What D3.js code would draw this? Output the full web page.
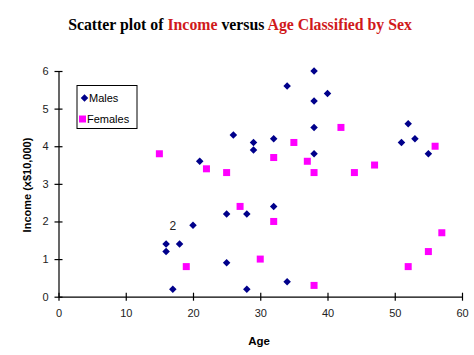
<!DOCTYPE html>
<html><head><meta charset="utf-8">
<script src="https://cdn.jsdelivr.net/npm/d3@7"></script>
<style>body{margin:0;background:#fff}svg{display:block}</style>
</head><body>
<svg id="c" width="474" height="355"></svg>
<script>
const malesAge    = [17,16,16,18,20,21,25,25,26,28,28,29,29,32,32,34,34,38,38,38,38,40,51,52,53,55];
const malesIncome = [0.2,1.2,1.4,1.4,1.9,3.6,2.2,0.9,4.3,2.2,0.2,4.1,3.9,4.2,2.4,5.6,0.4,6.0,5.2,4.5,3.8,5.4,4.1,4.6,4.2,3.8];
const femalesAge    = [15,19,22,25,27,30,32,32,35,37,38,38,42,44,47,52,55,56,57];
const femalesIncome = [3.8,0.8,3.4,3.3,2.4,1.0,3.7,2.0,4.1,3.6,3.3,0.3,4.5,3.3,3.5,0.8,1.2,4.0,1.7];
const xTicks = [0,10,20,30,40,50,60];
const yTicks = [0,1,2,3,4,5,6];
const annotation = {age:17, income:1.87, text:"2"};

const svg = d3.select("#c");
const x = d3.scaleLinear().domain([0,60]).range([58.5,462]);
const y = d3.scaleLinear().domain([0,6]).range([296.7,71]);
const font = "Liberation Sans, Arial, sans-serif";

// title
const t = svg.append("text").attr("x",240).attr("y",30).attr("text-anchor","middle")
  .attr("font-family","Liberation Serif, Times New Roman, serif").attr("font-weight","bold").attr("font-size",15.8);
[["Scatter plot of ","#000"],["Income","#d0191b"],[" versus ","#000"],["Age Classified by Sex","#d0191b"]]
  .forEach(([s,c])=>t.append("tspan").attr("fill",c).text(s));

// axes
const xAxis = svg.append("g").attr("transform",`translate(0,${y(0)})`)
  .call(d3.axisBottom(x).tickValues(xTicks).tickFormat(d3.format("d")).tickSize(4).tickPadding(9).tickSizeOuter(0));
xAxis.selectAll(".tick line").attr("y1",-4);
const yAxis = svg.append("g").attr("transform",`translate(${x(0)},0)`)
  .call(d3.axisLeft(y).tickValues(yTicks).tickFormat(d3.format("d")).tickSize(4).tickPadding(6).tickSizeOuter(0));
yAxis.selectAll(".tick line").attr("x1",4);
svg.selectAll(".domain").attr("stroke","#000").attr("stroke-width",1.2);
svg.selectAll(".tick line").attr("stroke","#000").attr("stroke-width",1.2);
svg.selectAll(".tick text").attr("font-family",font).attr("font-size",11).attr("fill","#222");

// axis titles
svg.append("text").attr("x",259).attr("y",345).attr("text-anchor","middle")
  .attr("font-family",font).attr("font-weight","bold").attr("font-size",11.5).text("Age");
svg.append("text").attr("transform","translate(31,185) rotate(-90)").attr("text-anchor","middle")
  .attr("font-family",font).attr("font-weight","bold").attr("font-size",11).text("Income (x$10,000)");

// points
const diamond = d3.symbol().type(d3.symbolDiamond2).size(36);
svg.append("g").selectAll("path").data(malesAge.map((a,i)=>[a,malesIncome[i]])).join("path")
  .attr("d",diamond).attr("transform",d=>`translate(${x(d[0])},${y(d[1])})`).attr("fill","#00008b");
svg.append("g").selectAll("rect").data(femalesAge.map((a,i)=>[a,femalesIncome[i]])).join("rect")
  .attr("x",d=>x(d[0])-3.5).attr("y",d=>y(d[1])-3.5).attr("width",7).attr("height",7).attr("fill","#ff00ff");

svg.append("text").attr("x",x(annotation.age)).attr("y",y(annotation.income)+4).attr("text-anchor","middle")
  .attr("font-family",font).attr("font-size",12).attr("fill","#222").text(annotation.text);

// legend
const lg = svg.append("g");
lg.append("rect").attr("x",77).attr("y",85.5).attr("width",60).attr("height",43).attr("fill","#fff").attr("stroke","#000").attr("stroke-width",1);
lg.append("path").attr("d",diamond).attr("transform","translate(84.5,98)").attr("fill","#00008b");
lg.append("text").attr("x",89).attr("y",102).attr("font-family",font).attr("font-size",11).text("Males");
lg.append("rect").attr("x",79).attr("y",115.5).attr("width",7).attr("height",7).attr("fill","#ff00ff");
lg.append("text").attr("x",87).attr("y",123).attr("font-family",font).attr("font-size",11).text("Females");
</script>
</body></html>
